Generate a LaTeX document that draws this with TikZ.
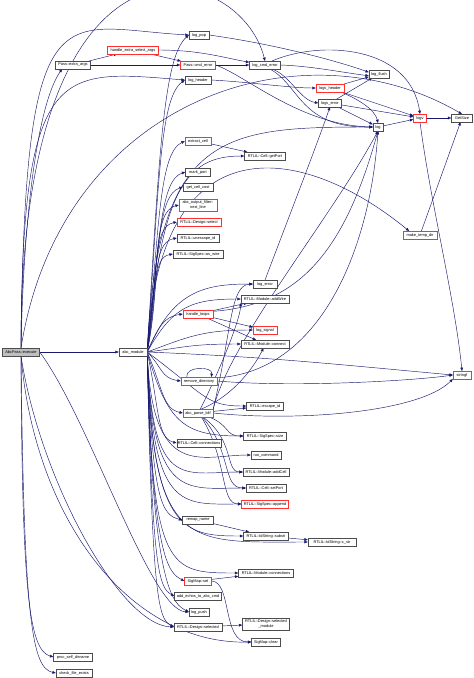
\documentclass[tikz,border=0pt]{standalone}
\usepackage{fontspec}
\setmainfont{Liberation Sans}
\usetikzlibrary{arrows.meta,backgrounds}
\definecolor{navy}{HTML}{191970}
\definecolor{trunc}{HTML}{FF3030}
\begin{document}
\begin{tikzpicture}[x=1pt,y=-1pt,
  nd/.style={draw=black!70, line width=0.4pt, fill=white, inner xsep=1pt, inner ysep=0.5pt,
     minimum height=7.5pt, font=\fontsize{3.9}{4.4}\selectfont, align=center},
  rd/.style={nd, draw=trunc},
  e/.style={draw=navy, line width=0.45pt, -{Triangle[length=3.4pt,width=2.7pt]}}]
\useasboundingbox (0,0) rectangle (474,678);
% nodes
\node[nd,fill=black!25,minimum width=37pt] (exec) at (21,352) {AbcPass::execute};
\node[nd,minimum width=28pt] (abcmod) at (133,352) {abc\_module};
\node[nd,minimum width=35pt] (extra) at (73,65) {Pass::extra\_args};
\node[rd,minimum width=51pt] (hesa) at (133,50) {handle\_extra\_select\_args};
\node[nd,minimum width=20pt] (logpop) at (199,35) {log\_pop};
\node[rd,minimum width=35pt] (cmderr) at (198,65) {Pass::cmd\_error};
\node[nd,minimum width=26pt] (loghdr) at (198,80) {log\_header};
\node[nd,minimum width=31pt] (logcmderr) at (265,65) {log\_cmd\_error};
\node[nd,minimum width=20pt] (logflush) at (379,74) {log\_flush};
\node[rd,minimum width=28pt] (logvhdr) at (330,88) {logv\_header};
\node[nd,minimum width=23pt] (logverr) at (330,103) {logv\_error};
\node[nd,minimum width=10pt] (log) at (378,127) {log};
\node[rd,minimum width=13pt] (logv) at (420,118) {logv};
\node[nd,minimum width=21pt] (getsize) at (462,118) {GetSize};
\node[rd,minimum width=26pt] (extract) at (198,141) {extract\_cell};
\node[nd,minimum width=41pt] (getport) at (265,156) {RTLIL::Cell::getPort};
\node[nd,minimum width=25pt] (markport) at (198,172) {mark\_port};
\node[nd,minimum width=30pt] (cellcost) at (198,187) {get\_cell\_cost};
\node[rd,minimum width=38pt,minimum height=12pt] (nextline) at (198,205) {abc\_output\_filter::\\next\_line};
\node[rd,minimum width=44pt] (dselect) at (199,222) {RTLIL::Design::select};
\node[nd,minimum width=42pt] (unesc) at (198,238) {RTLIL::unescape\_id};
\node[nd,minimum width=50pt] (aswire) at (198,254) {RTLIL::SigSpec::as\_wire};
\node[nd,minimum width=24pt] (logerror) at (265,284) {log\_error};
\node[nd,minimum width=48pt] (addwire) at (265,299) {RTLIL::Module::addWire};
\node[rd,minimum width=30pt] (loops) at (198,314) {handle\_loops};
\node[rd,minimum width=24pt] (logsig) at (265,330) {log\_signal};
\node[nd,minimum width=48pt] (connect) at (265,344) {RTLIL::Module::connect};
\node[rd,minimum width=34pt] (maketemp) at (420,235) {make\_temp\_dir};
\node[rd,minimum width=36pt] (remdir) at (199,381) {remove\_directory};
\node[rd,minimum width=18pt] (stringf) at (462,375) {stringf};
\node[rd,minimum width=30pt] (blif) at (198,413) {abc\_parse\_blif};
\node[nd,minimum width=37pt] (escid) at (265,406) {RTLIL::escape\_id};
\node[nd,minimum width=43pt] (sigsize) at (265,436) {RTLIL::SigSpec::size};
\node[nd,minimum width=44pt] (cellconn) at (199,443) {RTLIL::Cell::connections};
\node[nd,minimum width=30pt] (runcmd) at (266,455) {run\_command};
\node[nd,minimum width=46pt] (addcell) at (266,472) {RTLIL::Module::addCell};
\node[nd,minimum width=40pt] (setport) at (266,488) {RTLIL::Cell::setPort};
\node[rd,minimum width=47pt] (append) at (265,504) {RTLIL::SigSpec::append};
\node[nd,minimum width=31pt] (remap) at (198,520) {remap\_name};
\node[nd,minimum width=45pt] (substr) at (266,536) {RTLIL::IdString::substr};
\node[nd,minimum width=48pt] (cstr) at (332,542) {RTLIL::IdString::c\_str};
\node[nd,minimum width=55pt] (modconn) at (266,573) {RTLIL::Module::connections};
\node[rd,minimum width=27pt] (sigset) at (198,581) {SigMap::set};
\node[nd,minimum width=47pt] (echos) at (198,596) {add\_echos\_to\_abc\_cmd};
\node[nd,minimum width=20pt] (logpush) at (199,612) {log\_push};
\node[nd,minimum width=48pt] (dselected) at (198,627) {RTLIL::Design::selected};
\node[nd,minimum width=47pt,minimum height=11.5pt] (selmod) at (266,624) {RTLIL::Design::selected\\\_module};
\node[nd,minimum width=29pt] (sigclear) at (266,642) {SigMap::clear};
\node[nd,minimum width=39pt] (procdir) at (73,657) {proc\_self\_dirname};
\node[nd,minimum width=36pt] (fileex) at (74,673) {check\_file\_exists};
\begin{pgfonlayer}{background}
% AbcPass::execute
\draw[e] (exec.north) .. controls (20,-100) and (240,-40) .. (logcmderr.north);
\draw[e] (exec.north) .. controls (25,-20) and (60,28) .. (logpop.west);
\draw[e] (exec.north) .. controls (24,200) and (40,100) .. (extra.200);
\draw[e] (exec.north) .. controls (22,60) and (60,70) .. (loghdr.west);
\draw[e] (exec.north) .. controls (60,100) and (300,20) .. (getsize.north);
\draw[e] (exec) -- (abcmod);
\draw[e] (exec.south) .. controls (22,600) and (30,650) .. (procdir.west);
\draw[e] (exec.south) .. controls (24,620) and (32,668) .. (fileex.west);
\draw[e] (exec.south) .. controls (40,480) and (120,625) .. (dselected.west);
\draw[e] (exec.south) .. controls (35,520) and (130,645) .. (sigclear.west);
\draw[e] (exec.east) .. controls (90,420) and (150,610) .. (logpush.west);
% abc_module fan
\draw[e] (abcmod.east) .. controls +(12,-200) and +(-25,22) .. (logpop.west);
\draw[e] (abcmod.east) .. controls +(12,-170) and +(-25,18) .. (loghdr.west);
\draw[e] (abcmod.east) .. controls +(10,-220) and +(-150,0) .. (log.west);
\draw[e] (abcmod.east) .. controls +(10,-230) and +(-110,-90) .. (maketemp.160);
\draw[e] (abcmod.east) .. controls +(12,-130) and +(-25,12) .. (extract.west);
\draw[e] (abcmod.east) .. controls +(14,-160) and +(-60,0) .. (getport.west);
\draw[e] (abcmod.east) .. controls +(12,-110) and +(-25,8) .. (markport.west);
\draw[e] (abcmod.east) .. controls +(12,-100) and +(-25,8) .. (cellcost.west);
\draw[e] (abcmod.east) .. controls +(12,-88) and +(-25,6) .. (nextline.west);
\draw[e] (abcmod.east) .. controls +(12,-78) and +(-25,5) .. (dselect.west);
\draw[e] (abcmod.east) .. controls +(12,-68) and +(-25,5) .. (unesc.west);
\draw[e] (abcmod.east) .. controls +(12,-58) and +(-22,4) .. (aswire.west);
\draw[e] (abcmod.east) .. controls +(25,-60) and +(-50,0) .. (logerror.west);
\draw[e] (abcmod.east) .. controls +(25,-45) and +(-50,0) .. (addwire.west);
\draw[e] (abcmod.east) .. controls +(12,-25) and +(-20,3) .. (loops.west);
\draw[e] (abcmod.east) .. controls +(40,-15) and +(-50,0) .. (logsig.west);
\draw[e] (abcmod.east) .. controls +(40,-5) and +(-50,0) .. (connect.west);
\draw[e] (abcmod.east) .. controls +(120,5) and +(-130,-12) .. (stringf.west);
\draw[e] (abcmod.east) .. controls +(15,15) and +(-20,-3) .. (remdir.west);
\draw[e] (abcmod.east) .. controls +(60,45) and +(-40,0) .. (escid.west);
\draw[e] (abcmod.east) .. controls +(15,35) and +(-20,-4) .. (blif.west);
\draw[e] (abcmod.east) .. controls +(20,70) and +(-60,0) .. (sigsize.west);
\draw[e] (abcmod.east) .. controls +(12,55) and +(-20,-5) .. (cellconn.west);
\draw[e] (abcmod.east) .. controls +(5,130) and +(-50,0) .. (runcmd.west);
\draw[e] (abcmod.east) .. controls +(5,140) and +(-60,0) .. (addcell.west);
\draw[e] (abcmod.east) .. controls +(5,150) and +(-60,0) .. (setport.west);
\draw[e] (abcmod.east) .. controls +(5,160) and +(-60,0) .. (append.west);
\draw[e] (abcmod.east) .. controls +(5,150) and +(-20,-5) .. (remap.west);
\draw[e] (abcmod.east) .. controls +(5,180) and +(-60,0) .. (substr.west);
\draw[e] (abcmod.east) .. controls +(5,200) and +(-120,0) .. (cstr.west);
\draw[e] (abcmod.east) .. controls +(5,220) and +(-70,0) .. (modconn.west);
\draw[e] (abcmod.east) .. controls +(5,210) and +(-15,-8) .. (sigset.west);
\draw[e] (abcmod.east) .. controls +(5,220) and +(-15,-8) .. (echos.west);
\draw[e] (abcmod.east) .. controls +(5,240) and +(-15,-8) .. (logpush.west);
\draw[e] (abcmod.east) .. controls +(5,250) and +(-15,-8) .. (dselected.west);
% upper cluster
\draw[e] (extra) -- (hesa);
\draw[e] (extra) -- (cmderr);
\draw[e] (hesa) -- (cmderr);
\draw[e] (hesa.east) .. controls (200,50) and (225,58) .. (logcmderr.170);
\draw[e] (cmderr) -- (logcmderr);
\draw[e] (cmderr.east) .. controls (245,75) and (300,125) .. (log.west);
\draw[e] (logpop.east) .. controls (280,45) and (340,62) .. (logflush.170);
\draw[e] (logcmderr.east) .. controls (310,66) and (340,72) .. (logflush.190);
\draw[e] (logcmderr.-30) .. controls (290,75) and (300,100) .. (logverr.west);
\draw[e] (logcmderr.-40) .. controls (300,85) and (300,128) .. (log.west);
\draw[e] (logcmderr.30) .. controls (320,40) and (410,45) .. (logv.north);
\draw[e] (loghdr.east) .. controls (250,82) and (290,88) .. (logvhdr.west);
\draw[e] (logvhdr) -- (logflush);
\draw[e] (logvhdr.-20) .. controls (360,100) and (375,110) .. (log.north);
\draw[e] (logvhdr) -- (logv);
\draw[e] (logverr) -- (logflush);
\draw[e] (logverr) -- (log);
\draw[e] (logverr) -- (logv);
\draw[e] (log) -- (logv);
\draw[e] (logv) -- (getsize);
\draw[e] (logv.south) .. controls (430,200) and (455,300) .. (stringf.north);
\draw[e] (maketemp) -- (getsize);
\draw[e] (extract) -- (getport);
\draw[e] (logerror.north) .. controls (280,240) and (315,150) .. (logverr.south);
% handle_loops
\draw[e] (loops) -- (addwire);
\draw[e] (loops) -- (logsig);
\draw[e] (loops) -- (connect);
\draw[e] (loops.10) .. controls (300,305) and (345,250) .. (log.south);
% remove_directory
\draw[e] ([xshift=6pt]remdir.north west) .. controls +(-2,-11) and +(2,-11) .. ([xshift=-6pt]remdir.north east);
\draw[e] (remdir.east) .. controls (300,388) and (420,380) .. (stringf.west);
\draw[e] (remdir.10) .. controls (320,372) and (370,250) .. (log.south);
% abc_parse_blif
\draw[e] (blif.north east) .. controls (232,330) and (230,285) .. (logerror.west);
\draw[e] (blif.60) .. controls (220,370) and (240,320) .. (addwire.south west);
\draw[e] (blif.50) .. controls (235,395) and (255,365) .. (connect.250);
\draw[e] (blif.north east) .. controls (230,340) and (330,220) .. (log.south);
\draw[e] (blif) -- (escid);
\draw[e] (blif.east) .. controls (300,422) and (420,412) .. (stringf.south west);
\draw[e] (blif.-20) .. controls (230,425) and (225,436) .. (sigsize.west);
\draw[e] (blif.-40) .. controls (235,440) and (225,472) .. (addcell.west);
\draw[e] (blif.-45) .. controls (232,450) and (222,488) .. (setport.west);
\draw[e] (blif.-50) .. controls (228,460) and (220,504) .. (append.west);
% lower cluster
\draw[e] (remap) -- (substr);
\draw[e] (substr) -- (cstr);
\draw[e] (sigset) -- (modconn);
\draw[e] (sigset.east) .. controls (232,582) and (222,642) .. (sigclear.west);
\draw[e] (dselected) -- (selmod);
\end{pgfonlayer}
\end{tikzpicture}
\end{document}
